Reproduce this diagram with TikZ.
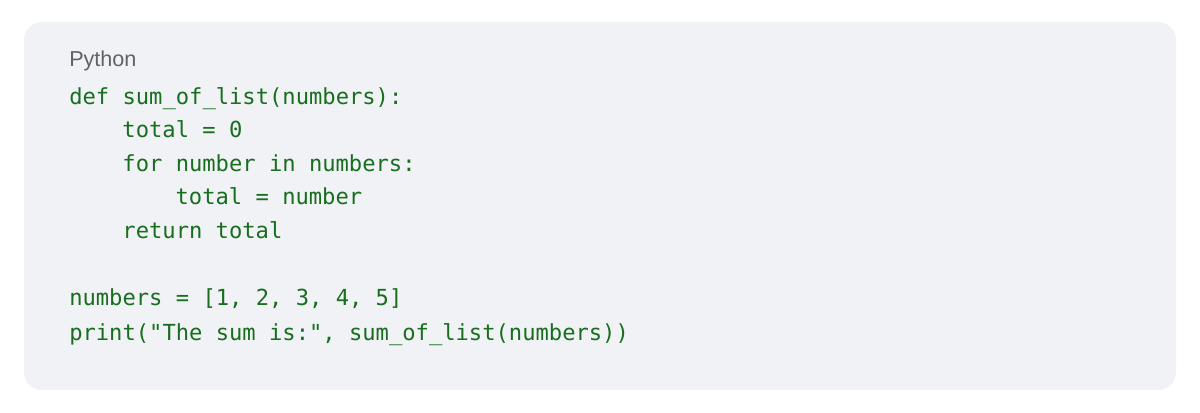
\documentclass[tikz,border=0pt]{standalone}
\usepackage{fontspec}
\setmainfont{Liberation Sans}
\newfontfamily\codefont{DejaVu Sans Mono}
\definecolor{bg}{HTML}{F0F2F5}
\definecolor{codegreen}{HTML}{186E1E}
\definecolor{labelgray}{HTML}{5F6368}
\begin{document}
\begin{tikzpicture}[x=0.75pt,y=-0.75pt,
  code/.style={anchor=base west,inner sep=0pt,text=codegreen,font=\codefont\fontsize{16.6}{20}\selectfont}]
\useasboundingbox (0,0) rectangle (1200,413);
\fill[bg,rounded corners=13.5pt] (24,22) rectangle (1176,390);
\node[anchor=base west,inner sep=0pt,text=labelgray,font=\fontsize{16.2}{18}\selectfont] (lang) at (69,67) {Python};
\node[code] (l1) at (69,105) {def sum\_of\_list(numbers):};
\node[code] (l2) at (122.2,138) {total = 0};
\node[code] (l3) at (122.2,172) {for number in numbers:};
\node[code] (l4) at (175.4,205) {total = number};
\node[code] (l5) at (122.2,239) {return total};
\node[code] (l6) at (69,306) {numbers = [1, 2, 3, 4, 5]};
\node[code] (l7) at (69,340) {print("The sum is:", sum\_of\_list(numbers))};
\end{tikzpicture}
\end{document}
